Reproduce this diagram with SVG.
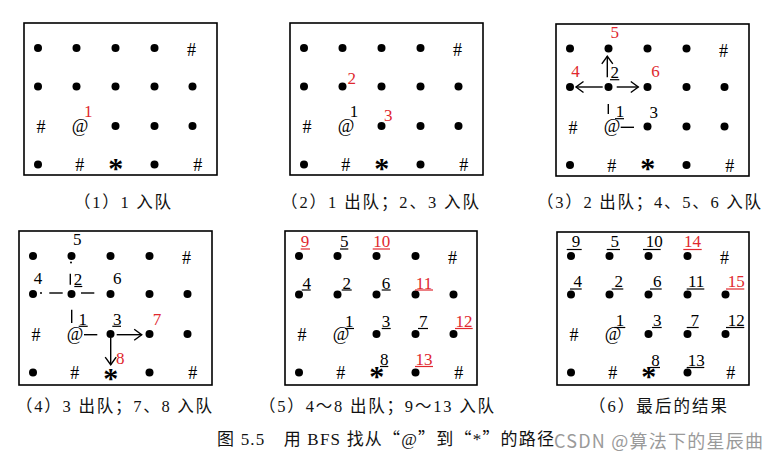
<svg xmlns="http://www.w3.org/2000/svg" width="779" height="462" viewBox="0 0 779 462">
<style>
.bg{fill:#fff}
.box{fill:none;stroke:#000;stroke-width:1.6}
.dot{fill:#000}
.sym{font-family:"Liberation Serif",serif;font-size:18px;text-anchor:middle;fill:#000}
.ast{font-family:"Liberation Serif",serif;font-size:30px;font-weight:bold;text-anchor:middle;fill:#000}
.num{font-family:"Liberation Serif",serif;font-size:17px;text-anchor:middle;fill:#000}
.red{fill:#e0282e}
.ul{stroke:#000;stroke-width:1.2}
.ulr{stroke:#e0282e;stroke-width:1.2}
.ln{stroke:#000;stroke-width:1.4;fill:none}
.arr{stroke:#000;stroke-width:1.4;fill:none;marker-end:url(#ah)}
.cap{font-family:"Liberation Serif","Noto Sans CJK SC",serif;font-size:16.5px;fill:#111}
.fig{font-family:"Liberation Serif","Noto Sans CJK SC",serif;font-size:17px;fill:#111}
.q{font-family:"Noto Sans CJK SC",serif}
.wm{font-family:"Noto Sans CJK SC","Noto Sans",sans-serif;font-size:18px;fill:#9a9a9a}
</style>
<defs>
<marker id="ah" markerUnits="userSpaceOnUse" markerWidth="9" markerHeight="13" viewBox="0 0 9 13" refX="8.5" refY="6.5" orient="auto" overflow="visible">
<path d="M1,1 L8.5,6.5 L1,12" fill="none" stroke="#000" stroke-width="1.4"/>
</marker>
</defs>
<rect class="bg" x="0" y="0" width="779" height="462"/>

<g id="panel1" transform="translate(24,23)">
<rect class="box" x="0" y="0" width="193" height="152"/>
<circle class="dot" cx="14" cy="25" r="4"/><circle class="dot" cx="52.5" cy="25" r="4"/><circle class="dot" cx="91.5" cy="25" r="4"/><circle class="dot" cx="130.5" cy="25" r="4"/>
<circle class="dot" cx="14" cy="63.5" r="4"/><circle class="dot" cx="52.5" cy="63.5" r="4"/><circle class="dot" cx="91.5" cy="63.5" r="4"/><circle class="dot" cx="130.5" cy="63.5" r="4"/><circle class="dot" cx="168.5" cy="63.5" r="4"/>
<circle class="dot" cx="91.5" cy="103" r="4"/><circle class="dot" cx="130.5" cy="103" r="4"/><circle class="dot" cx="168.5" cy="103" r="4"/>
<circle class="dot" cx="14" cy="141.5" r="4"/><circle class="dot" cx="130.5" cy="141.5" r="4"/>
<text class="sym" x="167.5" y="33.3">#</text><text class="sym" x="17" y="110">#</text><text class="sym" x="56" y="108.5">@</text><text class="sym" x="55.7" y="148.3">#</text><text class="ast" x="91.7" y="154.5">*</text><text class="sym" x="173.7" y="148.3">#</text>
<text class="num red" x="64.3" y="94">1</text>
</g>

<g id="panel2" transform="translate(290,23)">
<rect class="box" x="0" y="0" width="193" height="152"/>
<circle class="dot" cx="14" cy="25" r="4"/><circle class="dot" cx="52.5" cy="25" r="4"/><circle class="dot" cx="91.5" cy="25" r="4"/><circle class="dot" cx="130.5" cy="25" r="4"/>
<circle class="dot" cx="14" cy="63.5" r="4"/><circle class="dot" cx="52.5" cy="63.5" r="4"/><circle class="dot" cx="91.5" cy="63.5" r="4"/><circle class="dot" cx="130.5" cy="63.5" r="4"/><circle class="dot" cx="168.5" cy="63.5" r="4"/>
<circle class="dot" cx="91.5" cy="103" r="4"/><circle class="dot" cx="130.5" cy="103" r="4"/><circle class="dot" cx="168.5" cy="103" r="4"/>
<circle class="dot" cx="14" cy="141.5" r="4"/><circle class="dot" cx="130.5" cy="141.5" r="4"/>
<text class="sym" x="167.5" y="33.3">#</text><text class="sym" x="17" y="110">#</text><text class="sym" x="56" y="108.5">@</text><text class="sym" x="55.7" y="148.3">#</text><text class="ast" x="91.7" y="154.5">*</text><text class="sym" x="173.7" y="148.3">#</text>
<text class="num red" x="61.7" y="60.7">2</text>
<text class="num" x="64" y="94">1</text>
<text class="num red" x="98.3" y="97.7">3</text>
</g>

<g id="panel3" transform="translate(556,23)">
<rect class="box" x="0" y="1" width="193" height="152"/>
<circle class="dot" cx="14" cy="25.5" r="4"/><circle class="dot" cx="52.5" cy="25.5" r="4"/><circle class="dot" cx="91.5" cy="25.5" r="4"/><circle class="dot" cx="130.5" cy="25.5" r="4"/>
<circle class="dot" cx="14" cy="64" r="4"/><circle class="dot" cx="52.5" cy="64" r="4"/><circle class="dot" cx="91.5" cy="64" r="4"/><circle class="dot" cx="130.5" cy="64" r="4"/><circle class="dot" cx="168.5" cy="64" r="4"/>
<circle class="dot" cx="91.5" cy="103.5" r="4"/><circle class="dot" cx="130.5" cy="103.5" r="4"/><circle class="dot" cx="168.5" cy="103.5" r="4"/>
<circle class="dot" cx="14" cy="142" r="4"/><circle class="dot" cx="130.5" cy="142" r="4"/>
<text class="sym" x="167.5" y="33.8">#</text><text class="sym" x="17" y="110.5">#</text><text class="sym" x="56" y="109">@</text><text class="sym" x="55.7" y="148.8">#</text><text class="ast" x="91.7" y="155">*</text><text class="sym" x="173.7" y="148.8">#</text>
<text class="num red" x="58.7" y="15">5</text>
<text class="num" x="58.7" y="55">2</text>
<line class="ul" x1="54" y1="56.7" x2="63.3" y2="56.7"/>
<text class="num red" x="19.5" y="54.3">4</text>
<text class="num red" x="99.5" y="54.3">6</text>
<line class="ln" x1="52.3" y1="81" x2="52.3" y2="91"/>
<text class="num" x="64" y="94">1</text>
<line class="ul" x1="59" y1="95.7" x2="68" y2="95.7"/>
<line class="ln" x1="64.7" y1="104.3" x2="78" y2="104.3"/>
<text class="num" x="97.7" y="95">3</text>
</g>

<g id="panel4" transform="translate(19,231)">
<rect class="box" x="0" y="0" width="193" height="154"/>
<circle class="dot" cx="14" cy="25" r="4"/><circle class="dot" cx="52.5" cy="25" r="4"/><circle class="dot" cx="91.5" cy="25" r="4"/><circle class="dot" cx="130.5" cy="25" r="4"/>
<circle class="dot" cx="14" cy="63" r="4"/><circle class="dot" cx="52.5" cy="63" r="4"/><circle class="dot" cx="91.5" cy="63" r="4"/><circle class="dot" cx="130.5" cy="63" r="4"/><circle class="dot" cx="168.5" cy="63" r="4"/>
<circle class="dot" cx="91.5" cy="103" r="4"/><circle class="dot" cx="130.5" cy="103" r="4"/><circle class="dot" cx="168.5" cy="103" r="4"/>
<circle class="dot" cx="14" cy="141.5" r="4"/><circle class="dot" cx="130.5" cy="141.5" r="4"/>
<text class="sym" x="167.5" y="33.3">#</text><text class="sym" x="17" y="110">#</text><text class="sym" x="56" y="108.5">@</text><text class="sym" x="55.7" y="148.3">#</text><text class="ast" x="91.7" y="157">*</text><text class="sym" x="173.7" y="148.3">#</text>
<text class="num" x="58.2" y="13.7">5</text>
<circle class="dot" cx="52" cy="31.5" r="1"/>
<text class="num" x="19" y="53">4</text>
<circle class="dot" cx="22" cy="62" r="1"/>
<line class="ln" x1="30.3" y1="62" x2="43.7" y2="62"/>
<line class="ln" x1="51.3" y1="42.7" x2="51.3" y2="53.7"/>
<text class="num" x="59" y="53.7">2</text>
<line class="ul" x1="55.3" y1="55.5" x2="63.3" y2="55.5"/>
<line class="ln" x1="62" y1="62" x2="75.3" y2="62"/>
<text class="num" x="98.2" y="53">6</text>
<line class="ln" x1="52.7" y1="78.7" x2="52.7" y2="92"/>
<text class="num" x="63.7" y="93.7">1</text>
<line class="ul" x1="59.7" y1="95.3" x2="68.7" y2="95.3"/>
<line class="ln" x1="65" y1="103.7" x2="78.3" y2="103.7"/>
<text class="num" x="98.2" y="93.7">3</text>
<line class="ul" x1="93.3" y1="95.3" x2="102" y2="95.3"/>
<text class="num red" x="138" y="93.7">7</text>
<text class="num red" x="101.3" y="132.7">8</text>
</g>

<g id="panel5" transform="translate(285,231)">
<rect class="box" x="0" y="0" width="192" height="154"/>
<circle class="dot" cx="14" cy="25" r="4"/><circle class="dot" cx="52.5" cy="25" r="4"/><circle class="dot" cx="91.5" cy="25" r="4"/><circle class="dot" cx="130.5" cy="25" r="4"/>
<circle class="dot" cx="14" cy="63.5" r="4"/><circle class="dot" cx="52.5" cy="63.5" r="4"/><circle class="dot" cx="91.5" cy="63.5" r="4"/><circle class="dot" cx="130.5" cy="63.5" r="4"/><circle class="dot" cx="168.5" cy="63.5" r="4"/>
<circle class="dot" cx="91.5" cy="103" r="4"/><circle class="dot" cx="130.5" cy="103" r="4"/><circle class="dot" cx="168.5" cy="103" r="4"/>
<circle class="dot" cx="14" cy="141.5" r="4"/><circle class="dot" cx="130.5" cy="141.5" r="4"/>
<text class="sym" x="167.5" y="33.3">#</text><text class="sym" x="17" y="110">#</text><text class="sym" x="56" y="108.5">@</text><text class="sym" x="55.7" y="148.3">#</text><text class="ast" x="91.7" y="154.5">*</text><text class="sym" x="173.7" y="148.3">#</text>
<text class="num red" x="20" y="16.3">9</text><line class="ulr" x1="15.7" y1="18" x2="25" y2="18"/>
<text class="num" x="59.3" y="16.3">5</text><line class="ul" x1="55" y1="18" x2="63.3" y2="18"/>
<text class="num red" x="96.7" y="16.3">10</text><line class="ulr" x1="87.7" y1="18" x2="105" y2="18"/>
<text class="num" x="21.7" y="57.7">4</text><line class="ul" x1="16.7" y1="59" x2="25.7" y2="59"/>
<text class="num" x="61.7" y="57.7">2</text><line class="ul" x1="56.7" y1="59" x2="66.7" y2="59"/>
<text class="num" x="101" y="57.7">6</text><line class="ul" x1="96.7" y1="59" x2="105.7" y2="59"/>
<text class="num red" x="139" y="57.7">11</text><line class="ulr" x1="130" y1="59" x2="148" y2="59"/>
<text class="num" x="64.3" y="96.3">1</text><line class="ul" x1="60" y1="97.5" x2="69" y2="97.5"/>
<text class="num" x="101" y="96.3">3</text><line class="ul" x1="96.7" y1="97.5" x2="105.7" y2="97.5"/>
<text class="num" x="138.3" y="96.3">7</text><line class="ul" x1="133" y1="97.5" x2="143" y2="97.5"/>
<text class="num red" x="179" y="96.3">12</text><line class="ulr" x1="170" y1="97.5" x2="187.7" y2="97.5"/>
<text class="num" x="99.3" y="134.3">8</text><line class="ul" x1="95" y1="135.5" x2="103.3" y2="135.5"/>
<text class="num red" x="139" y="134.3">13</text><line class="ulr" x1="130" y1="135.5" x2="148" y2="135.5"/>
</g>

<g id="panel6" transform="translate(557,231)">
<rect class="box" x="0" y="1" width="192" height="153"/>
<circle class="dot" cx="14" cy="25" r="4"/><circle class="dot" cx="52.5" cy="25" r="4"/><circle class="dot" cx="91.5" cy="25" r="4"/><circle class="dot" cx="130.5" cy="25" r="4"/>
<circle class="dot" cx="14" cy="63.5" r="4"/><circle class="dot" cx="52.5" cy="63.5" r="4"/><circle class="dot" cx="91.5" cy="63.5" r="4"/><circle class="dot" cx="130.5" cy="63.5" r="4"/><circle class="dot" cx="168.5" cy="63.5" r="4"/>
<circle class="dot" cx="91.5" cy="103" r="4"/><circle class="dot" cx="130.5" cy="103" r="4"/><circle class="dot" cx="168.5" cy="103" r="4"/>
<circle class="dot" cx="14" cy="141.5" r="4"/><circle class="dot" cx="130.5" cy="141.5" r="4"/>
<text class="sym" x="167.5" y="33.3">#</text><text class="sym" x="17" y="110">#</text><text class="sym" x="56" y="108.5">@</text><text class="sym" x="55.7" y="148.3">#</text><text class="ast" x="91.7" y="154.5">*</text><text class="sym" x="173.7" y="148.3">#</text>
<text class="num" x="19" y="16.3">9</text><line class="ul" x1="9.7" y1="18.5" x2="24.7" y2="18.5"/>
<text class="num" x="57.8" y="16.3">5</text><line class="ul" x1="49.7" y1="18.5" x2="63" y2="18.5"/>
<text class="num" x="97.3" y="16.3">10</text><line class="ul" x1="86" y1="18.5" x2="103.7" y2="18.5"/>
<text class="num red" x="135.5" y="16.3">14</text><line class="ulr" x1="126.3" y1="18.5" x2="144.7" y2="18.5"/>
<text class="num" x="20.7" y="56.3">4</text><line class="ul" x1="13" y1="58" x2="24.7" y2="58"/>
<text class="num" x="61.7" y="56.3">2</text><line class="ul" x1="54.7" y1="58" x2="66.3" y2="58"/>
<text class="num" x="100.2" y="56.3">6</text><line class="ul" x1="93" y1="58" x2="104.7" y2="58"/>
<text class="num" x="139.2" y="56.3">11</text><line class="ul" x1="129.7" y1="58" x2="147.3" y2="58"/>
<text class="num red" x="179.2" y="56.3">15</text><line class="ulr" x1="169" y1="58" x2="187.3" y2="58"/>
<text class="num" x="63" y="95.3">1</text><line class="ul" x1="57.3" y1="96.5" x2="68.3" y2="96.5"/>
<text class="num" x="100.2" y="95.3">3</text><line class="ul" x1="95" y1="96.5" x2="104.7" y2="96.5"/>
<text class="num" x="137.7" y="95.3">7</text><line class="ul" x1="129.7" y1="96.5" x2="141.7" y2="96.5"/>
<text class="num" x="179.2" y="95.3">12</text><line class="ul" x1="169" y1="96.5" x2="187.3" y2="96.5"/>
<text class="num" x="98.5" y="135.3">8</text><line class="ul" x1="93" y1="136.5" x2="103" y2="136.5"/>
<text class="num" x="139.2" y="135.3">13</text><line class="ul" x1="129.7" y1="136.5" x2="147.3" y2="136.5"/>
</g>

<g id="connectors">
<g transform="translate(556,23)">
<line class="arr" x1="51.3" y1="54.3" x2="51.3" y2="33.3"/>
<line class="arr" x1="46.7" y1="64" x2="20" y2="64"/>
<line class="arr" x1="60.7" y1="64" x2="82.3" y2="64"/>
</g>
<g transform="translate(19,231)">
<line class="arr" x1="97.7" y1="103.7" x2="122.7" y2="103.7"/>
<line class="arr" x1="91.7" y1="107" x2="91.7" y2="133.7"/>
</g>
</g>

<g id="captions">
<text class="cap" x="74" y="207.5" textLength="97" lengthAdjust="spacing">（1）1 入队</text>
<text class="cap" x="281" y="207.5" textLength="198" lengthAdjust="spacing">（2）1 出队；2、3 入队</text>
<text class="cap" x="537" y="207.5" textLength="224" lengthAdjust="spacing">（3）2 出队；4、5、6 入队</text>
<text class="cap" x="16" y="411.8" textLength="196" lengthAdjust="spacing">（4）3 出队；7、8 入队</text>
<text class="cap" x="259" y="411.8" textLength="235" lengthAdjust="spacing">（5）4～8 出队；9～13 入队</text>
<text class="cap" x="589" y="411.8" textLength="138" lengthAdjust="spacing">（6）最后的结果</text>
<text class="fig" x="217" y="445" textLength="337" lengthAdjust="spacing">图 5.5　用 BFS 找从<tspan class="q">“</tspan>@<tspan class="q">”</tspan>到<tspan class="q">“</tspan>*<tspan class="q">”</tspan>的路径</text>
<text class="wm" x="554" y="447.5" textLength="209" lengthAdjust="spacing">CSDN @算法下的星辰曲</text>
</g>
</svg>
